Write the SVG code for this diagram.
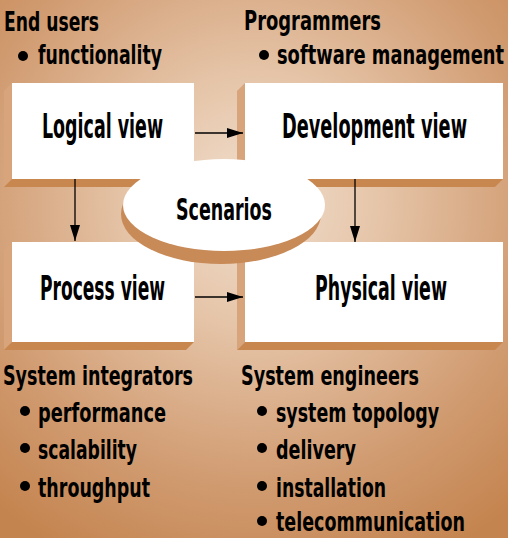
<svg xmlns="http://www.w3.org/2000/svg" width="508" height="538" viewBox="0 0 508 538">
  <defs>
    <radialGradient id="bg" gradientUnits="userSpaceOnUse" cx="255" cy="200" r="400">
      <stop offset="0" stop-color="#f1dfcf"/>
      <stop offset="0.3" stop-color="#e6c6aa"/>
      <stop offset="0.7" stop-color="#d19c72"/>
      <stop offset="1" stop-color="#c4844f"/>
    </radialGradient>
    <marker id="ah" markerWidth="16" markerHeight="10" refX="16" refY="5" orient="auto" markerUnits="userSpaceOnUse">
      <path d="M0,0 L16,5 L0,10 Z" fill="#000"/>
    </marker>
    <style>
      .box { fill: #ffffff; }
      .side { fill: #d7a47b; }
      .bottom { fill: #c8874f; }
      .t { font-family: "DejaVu Sans Condensed", "Liberation Sans Narrow", "Liberation Sans", sans-serif; font-weight: bold; fill: #000; }
      .s { font-size: 27px; }
      .l { font-size: 34px; }
      .sc { font-size: 31px; }
      .conn { stroke: #000; stroke-width: 1.3; fill: none; }
      .dot { fill: #000; }
    </style>
  </defs>

  <rect x="0" y="0" width="508" height="538" fill="url(#bg)"/>

  <g id="logical-view">
    <polygon class="side" points="12,83 4,91 4,187 12,179"/>
    <polygon class="bottom" points="12,179 194,179 186,187 4,187"/>
    <rect class="box" x="12" y="83" width="182" height="96"/>
    <text class="t l" transform="translate(42,138) scale(0.62,1)" textLength="195.2" lengthAdjust="spacingAndGlyphs">Logical view</text>
  </g>

  <g id="development-view">
    <polygon class="side" points="245,83 237,91 237,187 245,179"/>
    <polygon class="bottom" points="245,179 503,179 495,187 237,187"/>
    <rect class="box" x="245" y="83" width="258" height="96"/>
    <text class="t l" transform="translate(282,138) scale(0.62,1)" textLength="298.4" lengthAdjust="spacingAndGlyphs">Development view</text>
  </g>

  <g id="process-view">
    <polygon class="side" points="12,242 4,250 4,350 12,342"/>
    <polygon class="bottom" points="12,342 194,342 186,350 4,350"/>
    <rect class="box" x="12" y="242" width="182" height="100"/>
    <text class="t l" transform="translate(40,300) scale(0.62,1)" textLength="201.6" lengthAdjust="spacingAndGlyphs">Process view</text>
  </g>

  <g id="physical-view">
    <polygon class="side" points="245,242 237,250 237,350 245,342"/>
    <polygon class="bottom" points="245,342 503,342 495,350 237,350"/>
    <rect class="box" x="245" y="242" width="258" height="100"/>
    <text class="t l" transform="translate(315,300) scale(0.62,1)" textLength="212.9" lengthAdjust="spacingAndGlyphs">Physical view</text>
  </g>

  <g id="connectors">
    <line class="conn" x1="195" y1="133" x2="243" y2="133" marker-end="url(#ah)"/>
    <line class="conn" x1="75" y1="179" x2="75" y2="241" marker-end="url(#ah)"/>
    <line class="conn" x1="355" y1="179" x2="355" y2="242" marker-end="url(#ah)"/>
    <line class="conn" x1="195" y1="297" x2="243" y2="297" marker-end="url(#ah)"/>
  </g>

  <g id="scenarios">
    <ellipse cx="221" cy="214" rx="100" ry="50" fill="#c88a57"/>
    <ellipse cx="224" cy="205" rx="101" ry="46" fill="#ffffff"/>
    <text class="t sc" transform="translate(176,220) scale(0.62,1)" textLength="154.8" lengthAdjust="spacingAndGlyphs">Scenarios</text>
  </g>

  <g id="end-users">
    <text class="t s" transform="translate(4,31) scale(0.68,1)" textLength="139.7" lengthAdjust="spacingAndGlyphs">End users</text>
    <circle class="dot" cx="23" cy="56" r="5"/>
    <text class="t s" transform="translate(38,64) scale(0.68,1)" textLength="182.4" lengthAdjust="spacingAndGlyphs">functionality</text>
  </g>

  <g id="programmers">
    <text class="t s" transform="translate(244,30) scale(0.68,1)" textLength="201.5" lengthAdjust="spacingAndGlyphs">Programmers</text>
    <circle class="dot" cx="264" cy="55" r="5"/>
    <text class="t s" transform="translate(277,64) scale(0.68,1)" textLength="333.8" lengthAdjust="spacingAndGlyphs">software management</text>
  </g>

  <g id="system-integrators">
    <text class="t s" transform="translate(3,385) scale(0.68,1)" textLength="279.4" lengthAdjust="spacingAndGlyphs">System integrators</text>
    <circle class="dot" cx="25" cy="411" r="5"/>
    <text class="t s" transform="translate(38,422) scale(0.68,1)" textLength="188.2" lengthAdjust="spacingAndGlyphs">performance</text>
    <circle class="dot" cx="25" cy="448" r="5"/>
    <text class="t s" transform="translate(38,459) scale(0.68,1)" textLength="145.6" lengthAdjust="spacingAndGlyphs">scalability</text>
    <circle class="dot" cx="25" cy="486" r="5"/>
    <text class="t s" transform="translate(38,497) scale(0.68,1)" textLength="164.7" lengthAdjust="spacingAndGlyphs">throughput</text>
  </g>

  <g id="system-engineers">
    <text class="t s" transform="translate(241,385) scale(0.68,1)" textLength="261.8" lengthAdjust="spacingAndGlyphs">System engineers</text>
    <circle class="dot" cx="262" cy="411" r="5"/>
    <text class="t s" transform="translate(276,422) scale(0.68,1)" textLength="239.7" lengthAdjust="spacingAndGlyphs">system topology</text>
    <circle class="dot" cx="262" cy="448" r="5"/>
    <text class="t s" transform="translate(276,459) scale(0.68,1)" textLength="117.6" lengthAdjust="spacingAndGlyphs">delivery</text>
    <circle class="dot" cx="262" cy="486" r="5"/>
    <text class="t s" transform="translate(276,497) scale(0.68,1)" textLength="161.8" lengthAdjust="spacingAndGlyphs">installation</text>
    <circle class="dot" cx="262" cy="521" r="5"/>
    <text class="t s" transform="translate(276,531) scale(0.68,1)" textLength="277.9" lengthAdjust="spacingAndGlyphs">telecommunication</text>
  </g>
</svg>
